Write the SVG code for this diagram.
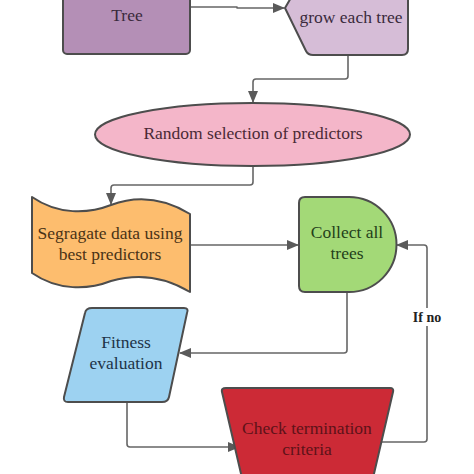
<svg xmlns="http://www.w3.org/2000/svg" width="474" height="474" viewBox="0 0 474 474">
<style>
.node{stroke:#4d4d4d;stroke-width:2;stroke-linejoin:round}
.t{font-family:"Liberation Serif","Times New Roman",serif;font-size:17.5px;text-anchor:middle}
.c{fill:none;stroke:#666;stroke-width:1.6;stroke-linejoin:round}
.lbl{font-family:"Liberation Serif","Times New Roman",serif;font-size:14px;font-weight:bold;text-anchor:middle;fill:#222}
</style>
<defs>
<marker id="ah" markerWidth="12" markerHeight="10" refX="11" refY="5" orient="auto" markerUnits="userSpaceOnUse">
<path d="M0,0 L12,5 L0,10 Z" fill="#5a5a5a"/>
</marker>
</defs>
<rect width="474" height="474" fill="#fff"/>
<g id="connectors">
<path class="c" d="M190,7 H237 V8 H284" marker-end="url(#ah)"/>
<path class="c" d="M348,56 V76 Q348,79 345,79 H256 Q253,79 253,82 V102" marker-end="url(#ah)"/>
<path class="c" d="M253,166 V182 Q253,185 250,185 H114 Q111,185 111,188 V204" marker-end="url(#ah)"/>
<path class="c" d="M190,245 H298" marker-end="url(#ah)"/>
<path class="c" d="M347,292 V350 Q347,353 344,353 H180" marker-end="url(#ah)"/>
<path class="c" d="M127,403 V444 Q127,447 130,447 H239" marker-end="url(#ah)"/>
<path class="c" d="M380,442 H424 Q427,442 427,439 V248 Q427,245 424,245 H397" marker-end="url(#ah)"/>
<rect x="411" y="308" width="32" height="18" fill="#fff"/>
<text class="lbl" x="427" y="322">If no</text>
</g>
<g id="tree">
<rect class="node" x="63" y="-10" width="127" height="64" rx="4" fill="#b48fb6"/>
<text class="t" x="127" y="21" fill="#3a2a3c">Tree</text>
</g>
<g id="grow">
<path class="node" d="M292,-4 L285,8 L306,51 Q308,55 313,55 H402 Q408,55 408,49 V-4" fill="#d6bdd7"/>
<text class="t" x="351" y="23" fill="#3a2a3c">grow each tree</text>
</g>
<g id="random">
<ellipse class="node" cx="252.5" cy="134.5" rx="157.5" ry="31.5" fill="#f4b6c9"/>
<text class="t" x="253" y="139" fill="#4a2a36">Random selection of predictors</text>
</g>
<g id="segregate">
<path class="node" d="M32,197 C58,215 88,214 111,205 C135,196 162,197 190,214 V292 C162,275 135,274 111,281 C88,290 58,291 32,273 Z" fill="#fdbd6e"/>
<text class="t" x="110" y="239" fill="#4a3316">Segragate data using</text>
<text class="t" x="110" y="260" fill="#4a3316">best predictors</text>
</g>
<g id="collect">
<path class="node" d="M305,197 H349 A47.5,47.5 0 0 1 349,292 H305 Q299,292 299,286 V203 Q299,197 305,197 Z" fill="#a3d977"/>
<text class="t" x="347" y="238" fill="#24401a">Collect all</text>
<text class="t" x="347" y="259" fill="#24401a">trees</text>
</g>
<g id="fitness">
<path class="node" d="M92,308 H184 Q189,308 187,313 L169,397 Q168,402 162,402 H68 Q63,402 64,397 L85,313 Q86,308 92,308 Z" fill="#9dd2f1"/>
<text class="t" x="126" y="348" fill="#1e3448">Fitness</text>
<text class="t" x="126" y="369" fill="#1e3448">evaluation</text>
</g>
<g id="check">
<path class="node" d="M226,388 H390 Q394,388 393,392 L373,478 H242 L222,392 Q221,388 226,388 Z" fill="#cc2a36"/>
<text class="t" x="307" y="434" fill="#5e1219">Check termination</text>
<text class="t" x="307" y="455" fill="#5e1219">criteria</text>
</g>
</svg>
